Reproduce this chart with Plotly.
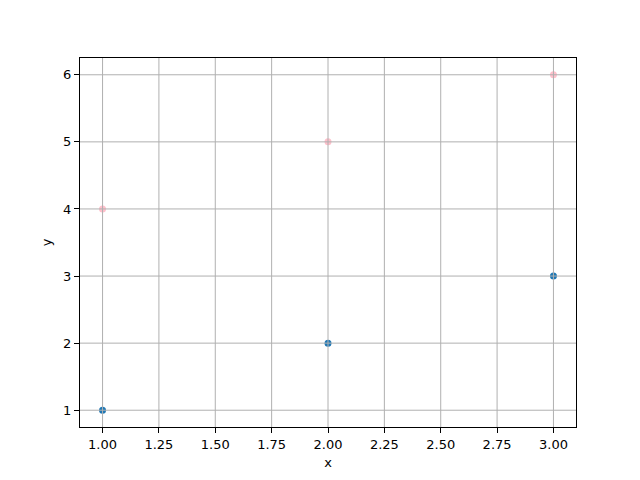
import plotly.graph_objects as go

# data
x_vals = [1, 2, 3]
y_blue = [1, 2, 3]
y_pink = [4, 5, 6]

x_ticks = [1.0, 1.25, 1.5, 1.75, 2.0, 2.25, 2.5, 2.75, 3.0]
y_ticks = [1, 2, 3, 4, 5, 6]

fig = go.Figure()
fig.add_trace(go.Scatter(x=x_vals, y=y_blue, mode='markers',
                         marker=dict(color='#1f77b4', size=7, line=dict(width=0))))
fig.add_trace(go.Scatter(x=x_vals, y=y_pink, mode='markers',
                         marker=dict(color='pink', size=7, line=dict(width=0))))

# grid drawn over the markers, like the original
for v in x_ticks:
    fig.add_shape(type='line', xref='x', yref='paper', x0=v, x1=v, y0=0, y1=1,
                  line=dict(color='#b0b0b0', width=1), layer='above')
for v in y_ticks:
    fig.add_shape(type='line', xref='paper', yref='y', x0=0, x1=1, y0=v, y1=v,
                  line=dict(color='#b0b0b0', width=1), layer='above')

axis_style = dict(showgrid=False,
                  showline=True, linecolor='black', linewidth=1, mirror=True,
                  ticks='outside', ticklen=5, tickcolor='black',
                  zeroline=False,
                  tickfont=dict(family='DejaVu Sans', size=13, color='black'),
                  title_font=dict(family='DejaVu Sans', size=13, color='black'))

fig.update_xaxes(range=[0.9, 3.1], tickvals=x_ticks,
                 ticktext=['%.2f' % v for v in x_ticks],
                 title_text='x', title_standoff=7, **axis_style)
fig.update_yaxes(range=[0.75, 6.25], tickvals=y_ticks,
                 ticktext=[str(v) for v in y_ticks],
                 title_text='y', title_standoff=8, **axis_style)

fig.update_layout(width=640, height=480, showlegend=False,
                  plot_bgcolor='white', paper_bgcolor='white',
                  margin=dict(l=72, r=72, t=50, b=61))
fig.write_html("out.html")
